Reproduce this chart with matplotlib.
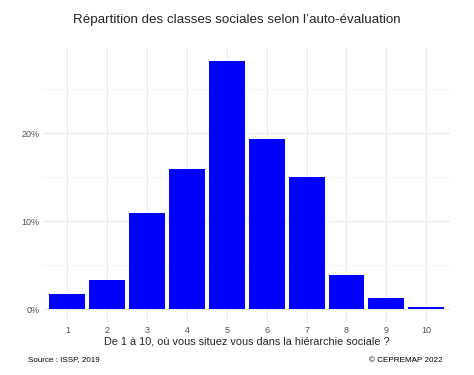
import numpy as np
import matplotlib.pyplot as plt

# Données
echelle = [1, 2, 3, 4, 5, 6, 7, 8, 9, 10]
parts = [1.7, 3.36, 10.94, 15.9, 28.25, 19.3, 15.07, 3.93, 1.28, 0.23]
yticks = [0, 10, 20]
ylabels = ['0%', '10%', '20%']

plt.rcParams['font.family'] = ['Liberation Sans', 'DejaVu Sans']

fig = plt.figure(figsize=(4.74, 3.75), dpi=100)
ax = fig.add_axes([0.0916, 0.1421, 0.858, 0.729])

ax.bar(echelle, parts, width=0.9, color='#0000ff', zorder=2)

ax.set_xlim(0.4, 10.6)
ax.set_ylim(-0.05 * max(parts), max(parts) * 1.05)

ax.set_xticks(echelle)
ax.set_xticklabels([str(e) for e in echelle])
ax.set_yticks(yticks)
ax.set_yticklabels(ylabels)
ax.set_yticks([5, 15, 25], minor=True)

ax.grid(True, which='major', color='#ebebeb', linewidth=0.8, zorder=0)
ax.grid(True, which='minor', axis='y', color='#f2f2f2', linewidth=0.5, zorder=0)
for s in ax.spines.values():
    s.set_visible(False)
ax.tick_params(which='both', length=0, labelsize=6.5, labelcolor='#4d4d4d')
ax.tick_params(axis='x', pad=3)
ax.tick_params(axis='y', pad=3)

ax.set_xlabel('De 1 à 10, où vous situez vous dans la hiérarchie sociale ?', fontsize=7.8, labelpad=1, color='#222222')
fig.text(0.5, 0.947, 'Répartition des classes sociales selon l\u2019auto-évaluation',
         ha='center', va='center', fontsize=9.6, color='#222222')
fig.text(0.059, 0.04, 'Source : ISSP, 2019', ha='left', va='center', fontsize=5.8)
fig.text(0.933, 0.04, '© CEPREMAP 2022', ha='right', va='center', fontsize=5.9)

fig.savefig('out.png', dpi=100)
